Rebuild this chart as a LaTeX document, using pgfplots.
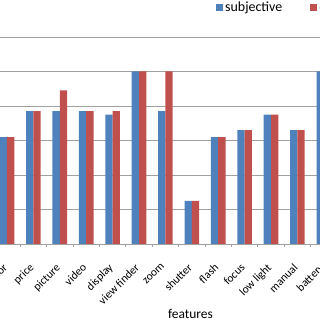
\documentclass[border=0pt]{standalone}
\usepackage{pgfplots}
\pgfplotsset{compat=1.18}
\usepackage{fontspec}
\setmainfont{Carlito}
\definecolor{serA}{HTML}{4F81BD}
\definecolor{serB}{HTML}{C0504D}
\definecolor{gridc}{HTML}{A0A0A0}
% small square legend swatches
\pgfplotsset{sqlegend/.style={legend image code/.code={\fill[##1] (0bp,-3.5bp) rectangle (7bp,3.5bp);}}}

\begin{document}
\begin{tikzpicture}
\path (0,0) rectangle (320bp,320bp);
\clip (0,0) rectangle (320bp,320bp);
\begin{pgfinterruptboundingbox}
\begin{axis}[
  at={(-6.2bp,76bp)}, anchor=south west,
  x=26.4bp, y=172.5bp,
  xmin=-0.5, xmax=14.5, ymin=0, ymax=1.2,
  ybar=0pt, bar width=7.3bp,
  axis line style={gridc, line width=0.8bp},
  xtick pos=bottom, ytick pos=left,
  ytick={0,0.2,...,1.2},
  ymajorgrids, grid style={gridc, line width=0.8bp},
  xtick={-0.5,0.5,...,12.5},
  x tick label as interval,
  xticklabels={color,price,picture,video,display,view finder,zoom,shutter,flash,focus,low light,manual,battery},
  tick style={gridc, line width=0.8bp},
  major tick length=3bp, tick align=outside,
  xticklabel style={font=\fontsize{11.5}{13}\selectfont, inner sep=0pt, xshift=-4.6bp, yshift=-15.5bp, rotate=45, anchor=north east},
  legend style={at={(0.5611,1.1425)}, anchor=west, draw=none, fill=none, inner sep=0pt,
    font=\fontsize{14}{16}\selectfont, /tikz/every even column/.append style={column sep=26bp}},
  legend columns=-1,
]
\addplot[fill=serA, draw=none, sqlegend] coordinates {
  (0,0.62) (1,0.77) (2,0.77) (3,0.77) (4,0.75) (5,1.0) (6,0.77)
  (7,0.25) (8,0.62) (9,0.66) (10,0.75) (11,0.66) (12,1.0)};
\addplot[fill=serB, draw=none, sqlegend] coordinates {
  (0,0.62) (1,0.77) (2,0.89) (3,0.77) (4,0.77) (5,1.0) (6,1.0)
  (7,0.25) (8,0.62) (9,0.66) (10,0.75) (11,0.66) (12,1.0)};
\legend{subjective,objective}
\end{axis}
\end{pgfinterruptboundingbox}
% x-axis title
\node[anchor=base, inner sep=0pt, font=\fontsize{13.5}{15}\selectfont] at (190.5bp,1.5bp) {features};
\end{tikzpicture}
\end{document}
